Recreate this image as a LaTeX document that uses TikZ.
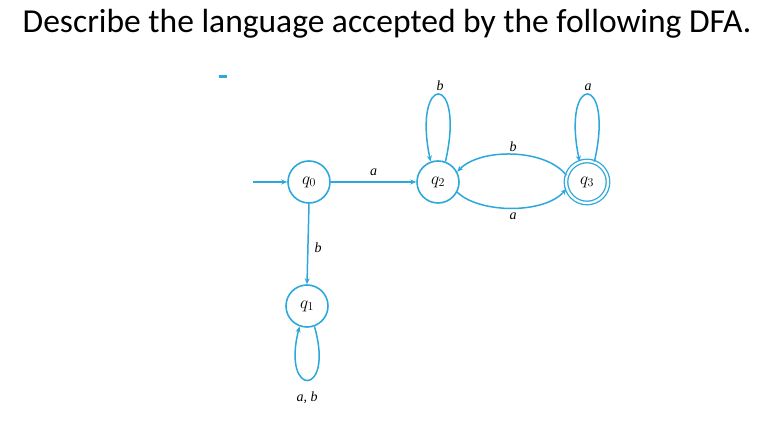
\documentclass[tikz,border=0pt]{standalone}
\usepackage{fontspec}
\newfontfamily\titlefont{Carlito}
\newfontfamily\lblfont{Liberation Serif}
\usetikzlibrary{arrows.meta}
\definecolor{dfablue}{RGB}{45,168,220}
\tikzset{
  state/.style={circle,draw=dfablue,line width=1.6pt,minimum size=42pt,inner sep=0pt,font=\fontsize{18}{18}\selectfont},
  accstate/.style={state,double=white,double distance=2.2pt,line width=1.3pt},
  edge/.style={draw=dfablue,line width=1.5pt,-{Stealth[length=6pt,width=5pt]}},
  lbl/.style={font=\lblfont\fontsize{14}{14}\selectfont\itshape,inner sep=0pt}
}
\begin{document}
\begin{tikzpicture}[x=1pt,y=-1pt]
\useasboundingbox[fill=white] (0,0) rectangle (782,422);
\node[anchor=base,font=\titlefont\fontsize{33.5}{33.5}\selectfont] (title) at (387,33) {Describe the language accepted by the following DFA.};
\draw[dfablue,line width=3pt] (219,77) -- (227,77);
\node[state] (q0) at (309,182) {$q_0$};
\node[state] (q2) at (438,182) {$q_2$};
\node[accstate] (q3) at (587,182) {$q_3$};
\node[state] (q1) at (307,306) {$q_1$};
\coordinate (start) at (253,182);
\draw[edge] (start) -- (q0);
\draw[edge] (q0) -- node[lbl,above=6pt] {a} (q2);
\draw[edge] (q0.south) -- node[lbl,right=6pt,pos=0.55] {b} (q1.north);
\draw[edge] (q2.70) .. controls (466,72) and (412,72) .. (q2.110);
\node[lbl] (lb2) at (440,86) {b};
\draw[edge] (q3.70) .. controls (615,72) and (561,72) .. (q3.110);
\node[lbl] (la3) at (588,87) {a};
\draw[edge] (q3.162) .. controls (545,148) and (480,148) .. (q2.28);
\node[lbl] (lb23) at (513,147) {b};
\draw[edge] (q2.-28) .. controls (480,214) and (545,214) .. (q3.-162);
\node[lbl] (la23) at (513,216) {a};
\draw[edge] (q1.-70) .. controls (335,398) and (281,398) .. (q1.-110);
\node[lbl] (lab1) at (307,398) {a, b};
\end{tikzpicture}
\end{document}
